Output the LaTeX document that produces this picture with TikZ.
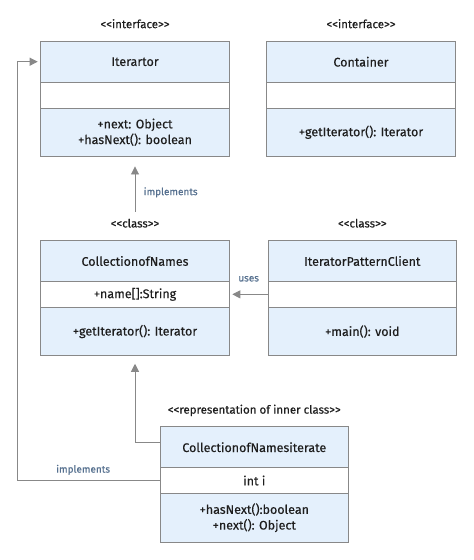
\documentclass[tikz,border=0pt]{standalone}
\usepackage{fontspec}
\setmainfont[FakeBold=0.25]{Fira Sans}
\newfontfamily\stereofont[FakeBold=0.55]{Fira Sans}
\usetikzlibrary{positioning,arrows.meta}
\definecolor{boxfill}{HTML}{E4F0FC}
\definecolor{boxline}{HTML}{888888}
\definecolor{ink}{HTML}{1E1E1E}
\definecolor{notecol}{HTML}{56708F}
\tikzset{
   part/.style ={
      rectangle, draw=boxline, line width=0.9pt, outer sep=0pt, inner sep=0pt,
      minimum width=188.6pt, text=ink, align=center,
      font=\fontsize{12.5}{15.7}\selectfont,
   },
   head/.style ={part, fill=boxfill, minimum height=40.7pt},
   attr/.style ={part, fill=white, minimum height=26pt},
   ops/.style ={part, fill=boxfill, minimum height=48.4pt},
   stereo/.style ={
      text=ink, inner sep=0pt, text depth=0pt,
      font=\stereofont\fontsize{11.5}{14}\selectfont,
   },
   note/.style ={text=notecol, font=\stereofont\fontsize{10}{12}\selectfont},
   line/.style ={-, line width=0.9pt, color=boxline},
   arrow/.style ={
      -{Triangle[length=8pt,width=8pt]}, line width=0.9pt, color=boxline,
   },
}
\begin{document}
\begin{tikzpicture}[x=1pt,y=-1pt]
   \useasboundingbox (0,0) rectangle (474,560);

   \node[head] (iter) at (135,61.7) {Iterartor};
   \node[attr, below=0pt of iter] (iterAttr) {};
   \node[ops, below=0pt of iterAttr] (iterOps) {+next: Object\\+hasNext(): boolean};
   \node[stereo, above=13pt of iter] (iterStereo) {<{}<interface>{}>};

   \node[head] (cont) at (361,61.7) {Container};
   \node[attr, below=0pt of cont] (contAttr) {};
   \node[ops, below=0pt of contAttr] (contOps) {+getIterator(): Iterator};
   \node[stereo, above=13pt of cont] (contStereo) {<{}<interface>{}>};

   \node[head] (cn) at (135,261) {CollectionofNames};
   \node[attr, below=0pt of cn] (cnAttr) {+name[]:String};
   \node[ops, below=0pt of cnAttr] (cnOps) {+getIterator(): Iterator};
   \node[stereo, above=13pt of cn] (cnStereo) {<{}<class>{}>};

   \node[head] (ipc) at (362.3,261) {IteratorPatternClient};
   \node[attr, below=0pt of ipc] (ipcAttr) {};
   \node[ops, below=0pt of ipcAttr] (ipcOps) {+main(): void};
   \node[stereo, above=13pt of ipc] (ipcStereo) {<{}<class>{}>};

   \node[head] (cni) at (254.3,447.2) {CollectionofNamesiterate};
   \node[attr, below=0pt of cni] (cniAttr) {int i};
   \node[ops, below=0pt of cniAttr] (cniOps) {+hasNext():boolean\\+next(): Object};
   \node[stereo, above=13pt of cni] (cniStereo) {<{}<representation of inner class>{}>};

   \coordinate (rail) at (17.7,0);

   \draw[arrow, shorten >=10pt] ([yshift=7pt]cnStereo.north) -- node[note, right=5pt, pos=0.35]{implements} (iterOps.south);
   \draw[arrow, shorten >=3pt] (ipcAttr.west) -- node[note, above=9pt]{uses} (cnAttr.east);
   \draw[arrow, shorten >=8pt] ([yshift=5pt]cni.west) -| (cnOps.south);
   \draw[arrow, shorten >=3pt] (cniAttr.west) -| node[note, above=2pt, pos=0.27]{implements} (rail |- iter.west) -- (iter.west);

\end{tikzpicture}
\end{document}
